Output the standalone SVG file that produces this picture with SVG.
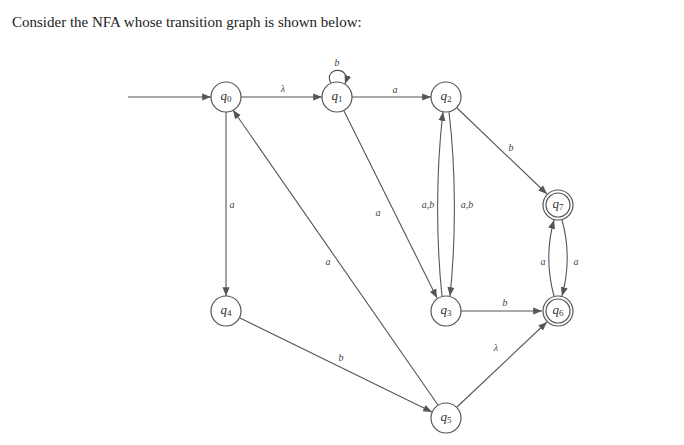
<svg xmlns="http://www.w3.org/2000/svg" width="684" height="445" viewBox="0 0 684 445">
<style>
.n{fill:#fff;stroke:#555;stroke-width:1.2}
.e{fill:none;stroke:#555;stroke-width:1.1}
.t{font-family:"Liberation Serif",serif;font-style:italic;font-size:13px;fill:#333;text-anchor:middle}
.l{font-family:"Liberation Serif",serif;font-style:italic;font-size:10px;fill:#444;text-anchor:middle}
.s{font-size:9px;font-style:normal}
</style>
<defs><marker id="a" viewBox="0 0 10 10" refX="10" refY="5" markerWidth="8" markerHeight="8" orient="auto"><path d="M0,1 L10,5 L0,9 z" fill="#555"/></marker></defs>
<rect width="684" height="445" fill="#fff"/>
<text x="12" y="27" font-family="Liberation Serif,serif" font-size="15" fill="#222">Consider the NFA whose transition graph is shown below:</text>
<g id="edges">
<path class="e" marker-end="url(#a)" d="M128,97 H211"/>
<path class="e" marker-end="url(#a)" d="M241,97 H322"/>
<path class="e" marker-end="url(#a)" d="M331,83 C322,68 352,64 345,84"/>
<path class="e" marker-end="url(#a)" d="M352,97 H431"/>
<path class="e" marker-end="url(#a)" d="M457,108 L547,194"/>
<path class="e" marker-end="url(#a)" d="M442,296 C436,240 436,170 443,112"/>
<path class="e" marker-end="url(#a)" d="M449,112 C456,170 456,240 450,296"/>
<path class="e" marker-end="url(#a)" d="M344,111 L437,298"/>
<path class="e" marker-end="url(#a)" d="M226,112 V296"/>
<path class="e" marker-end="url(#a)" d="M438,405 L233,110"/>
<path class="e" marker-end="url(#a)" d="M240,318 L432,412"/>
<path class="e" marker-end="url(#a)" d="M461,311 H542"/>
<path class="e" marker-end="url(#a)" d="M457,407 L547,322"/>
<path class="e" marker-end="url(#a)" d="M554,296 C547,270 547,245 554,220"/>
<path class="e" marker-end="url(#a)" d="M562,220 C569,245 569,270 562,296"/>
<text class="l" x="283" y="92">λ</text>
<text class="l" x="337" y="66">b</text>
<text class="l" x="395" y="93">a</text>
<text class="l" x="511" y="151">b</text>
<text class="l" x="428" y="208">a,b</text>
<text class="l" x="467" y="208">a,b</text>
<text class="l" x="378" y="216">a</text>
<text class="l" x="232" y="208">a</text>
<text class="l" x="328" y="265">a</text>
<text class="l" x="341" y="361">b</text>
<text class="l" x="505" y="306">b</text>
<text class="l" x="496" y="351">λ</text>
<text class="l" x="543" y="265">a</text>
<text class="l" x="576" y="265">a</text>
</g>
<g id="q0"><circle class="n" cx="226" cy="97" r="15"/><text class="t" x="226" y="100">q<tspan class="s" dy="2">0</tspan></text></g>
<g id="q1"><circle class="n" cx="337" cy="97" r="15"/><text class="t" x="337" y="100">q<tspan class="s" dy="2">1</tspan></text></g>
<g id="q2"><circle class="n" cx="446" cy="97" r="15"/><text class="t" x="446" y="100">q<tspan class="s" dy="2">2</tspan></text></g>
<g id="q7"><circle class="n" cx="558" cy="205" r="15"/><circle class="n" cx="558" cy="205" r="12"/><text class="t" x="558" y="208">q<tspan class="s" dy="2">7</tspan></text></g>
<g id="q3"><circle class="n" cx="446" cy="311" r="15"/><text class="t" x="446" y="314">q<tspan class="s" dy="2">3</tspan></text></g>
<g id="q6"><circle class="n" cx="558" cy="311" r="15"/><circle class="n" cx="558" cy="311" r="12"/><text class="t" x="558" y="314">q<tspan class="s" dy="2">6</tspan></text></g>
<g id="q4"><circle class="n" cx="226" cy="311" r="15"/><text class="t" x="226" y="314">q<tspan class="s" dy="2">4</tspan></text></g>
<g id="q5"><circle class="n" cx="446" cy="418" r="15"/><text class="t" x="446" y="421">q<tspan class="s" dy="2">5</tspan></text></g>
</svg>
